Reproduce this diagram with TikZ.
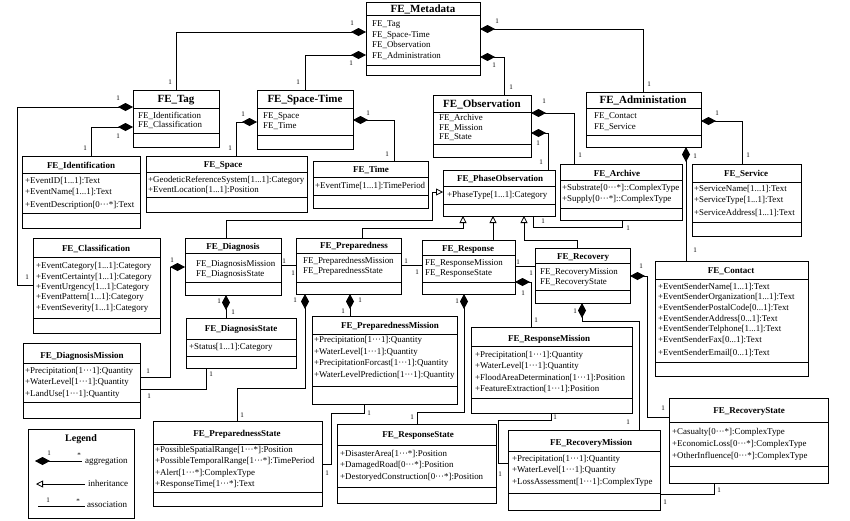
\documentclass[tikz,border=0pt]{standalone}
\usepackage{fontspec}
\setmainfont{Liberation Serif}
\usetikzlibrary{arrows.meta}
\newcommand\ubox[7]{%
  \pgfmathsetmacro\bw{#4-#2}\pgfmathsetmacro\bh{#5-#3}%
  \pgfmathsetmacro\bx{(#2+#4)/2}\pgfmathsetmacro\by{(#3+#5)/2}%
  \node[box, minimum width=\bw pt, minimum height=\bh pt] (#1) at (\bx,\by) {};
  \draw[line width=0.9pt] (#2,#6) -- (#4,#6) (#2,#7) -- (#4,#7);
}
\newcommand\al[4]{\node[attr] (#1) at (#2,#3) {#4};}
\newcommand\lb[3]{\node[lab] (#1) at (#2,#3) {1};}
\begin{document}
\begin{tikzpicture}[x=1pt,y=-1pt,
  box/.style={draw, fill=white, line width=0.9pt, inner sep=0, outer sep=0},
  conn/.style={line width=0.8pt},
  aggr/.style={conn, {Diamond[length=15pt,width=8pt]}-},
  inh/.style={conn, -{Triangle[open,length=7pt,width=7pt]}},
  attr/.style={anchor=west, inner sep=0, font=\fontsize{8.9}{10}\selectfont, text height=5.8pt, text depth=0pt},
  btitle/.style={inner sep=0, font=\fontsize{11}{13}\selectfont\bfseries, text height=7.3pt, text depth=0pt},
  stitle/.style={inner sep=0, font=\fontsize{9}{10}\selectfont\bfseries, text height=6pt, text depth=0pt},
  lab/.style={inner sep=0, font=\fontsize{7}{8}\selectfont},
  legtxt/.style={anchor=west, inner sep=0, font=\fontsize{9}{10}\selectfont, text height=5.4pt, text depth=0pt},
]
\useasboundingbox (0,0) rectangle (850,520);

% ---------- boxes ----------
\ubox{meta}{366}{2}{480}{75}{15}{65}
\node[btitle] (meta-t) at (423,9) {FE\_Metadata};
\al{meta-1}{372}{24}{FE\_Tag}
\al{meta-2}{372}{34.5}{FE\_Space-Time}
\al{meta-3}{372}{45}{FE\_Observation}
\al{meta-4}{372}{55.5}{FE\_Administration}

\ubox{tag}{133}{90}{219}{147}{108}{133}
\node[btitle] (tag-t) at (176,99) {FE\_Tag};
\al{tag-1}{138}{115.5}{FE\_Identification}
\al{tag-2}{138}{124.5}{FE\_Classification}

\ubox{st}{257}{90}{353}{149}{108}{135}
\node[btitle] (st-t) at (305,99) {FE\_Space-Time};
\al{st-1}{263}{116}{FE\_Space}
\al{st-2}{263}{126}{FE\_Time}

\ubox{obs}{433}{95}{531}{157}{112}{144}
\node[btitle] (obs-t) at (482,104) {FE\_Observation};
\al{obs-1}{439}{118}{FE\_Archive}
\al{obs-2}{439}{127.5}{FE\_Mission}
\al{obs-3}{439}{137}{FE\_State}

\ubox{adm}{586}{92}{701}{147}{108}{135}
\node[btitle] (adm-t) at (643,100) {FE\_Administation};
\al{adm-1}{594}{116}{FE\_Contact}
\al{adm-2}{594}{127}{FE\_Service}

\ubox{ident}{22}{156}{140}{228}{173}{213}
\node[stitle] (ident-t) at (81,165) {FE\_Identification};
\al{ident-1}{25}{181}{+EventID[1...1]:Text}
\al{ident-2}{25}{192}{+EventName[1...1]:Text}
\al{ident-3}{25}{205}{+EventDescription[0···*]:Text}

\ubox{space}{146}{156}{307}{212}{172}{197}
\node[stitle] (space-t) at (223,164) {FE\_Space};
\al{space-1}{148}{180}{+GeodeticReferenceSystem[1...1]:Category}
\al{space-2}{148}{190}{+EventLocation[1...1]:Position}

\ubox{time}{313}{161}{428}{208}{177}{195}
\node[stitle] (time-t) at (371,169) {FE\_Time};
\al{time-1}{315}{186}{+EventTime[1...1]:TimePeriod}

\ubox{phase}{443}{170}{555}{216}{186}{204}
\node[stitle] (phase-t) at (500,178) {FE\_PhaseObservation};
\al{phase-1}{447}{195}{+PhaseType[1...1]:Category}

\ubox{arch}{560}{164}{682}{220}{180}{208}
\node[stitle] (arch-t) at (617,173) {FE\_Archive};
\al{arch-1}{562}{188}{+Substrate[0···*]::ComplexType}
\al{arch-2}{562}{199}{+Supply[0···*]::ComplexType}

\ubox{serv}{692}{164}{801}{236}{182}{222}
\node[stitle] (serv-t) at (746,173) {FE\_Service};
\al{serv-1}{694}{189}{+ServiceName[1...1]:Text}
\al{serv-2}{694}{200}{+ServiceType[1...1]:Text}
\al{serv-3}{694}{213}{+ServiceAddress[1...1]:Text}

\ubox{class}{33}{238}{160}{333}{257}{318}
\node[stitle] (class-t) at (96,248) {FE\_Classification};
\al{class-1}{36}{266}{+EventCategory[1...1]:Category}
\al{class-2}{36}{277}{+EventCertainty[1...1]:Category}
\al{class-3}{36}{287}{+EventUrgency[1...1]:Category}
\al{class-4}{36}{297}{+EventPattern[1...1]:Category}
\al{class-5}{36}{308}{+EventSeverity[1...1]:Category}

\ubox{diag}{185}{238}{281}{295}{253}{282}
\node[stitle] (diag-t) at (233,246) {FE\_Diagnosis};
\al{diag-1}{196}{264}{FE\_DiagnosisMission}
\al{diag-2}{196}{274}{FE\_DiagnosisState}

\ubox{prep}{296}{238}{401}{294}{253}{282}
\node[stitle] (prep-t) at (354,245) {FE\_Preparedness};
\al{prep-1}{303}{261}{FE\_PreparednessMission}
\al{prep-2}{303}{271}{FE\_PreparednessState}

\ubox{resp}{422}{240}{515}{294}{255}{282}
\node[stitle] (resp-t) at (468,248) {FE\_Response};
\al{resp-1}{425}{263}{FE\_ResponseMission}
\al{resp-2}{425}{273}{FE\_ResponseState}

\ubox{reco}{535}{248}{630}{303}{263}{290}
\node[stitle] (reco-t) at (583,256) {FE\_Recovery};
\al{reco-1}{540}{272}{FE\_RecoveryMission}
\al{reco-2}{540}{282}{FE\_RecoveryState}

\ubox{cont}{655}{261}{808}{376}{279}{362}
\node[stitle] (cont-t) at (731,270) {FE\_Contact};
\al{cont-1}{658}{287}{+EventSenderName[1...1]:Text}
\al{cont-2}{658}{297}{+EventSenderOrganization[1...1]:Text}
\al{cont-3}{658}{308}{+EventSenderPostalCode[0...1]:Text}
\al{cont-4}{658}{319}{+EventSenderAddress[0...1]:Text}
\al{cont-5}{658}{329}{+EventSenderTelphone[1...1]:Text}
\al{cont-6}{658}{340}{+EventSenderFax[0...1]:Text}
\al{cont-7}{658}{353}{+EventSenderEmail[0...1]:Text}

\ubox{dstate}{186}{318}{296}{368}{339}{356}
\node[stitle] (dstate-t) at (241,328) {FE\_DiagnosisState};
\al{dstate-1}{189}{347}{+Status[1...1]:Category}

\ubox{dmis}{23}{343}{140}{418}{363}{402}
\node[stitle] (dmis-t) at (82,355) {FE\_DiagnosisMission};
\al{dmis-1}{25}{371}{+Precipitation[1···1]:Quantity}
\al{dmis-2}{25}{382}{+WaterLevel[1···1]:Quantity}
\al{dmis-3}{25}{394}{+LandUse[1···1]:Quantity}

\ubox{pmis}{312}{316}{457}{404}{334}{386}
\node[stitle] (pmis-t) at (390,325) {FE\_PreparednessMission};
\al{pmis-1}{314}{340}{+Precipitation[1···1]:Quantity}
\al{pmis-2}{314}{352}{+WaterLevel[1···1]:Quantity}
\al{pmis-3}{314}{363}{+PrecipitationForcast[1···1]:Quantity}
\al{pmis-4}{314}{375}{+WaterLevelPrediction[1···1]:Quantity}

\ubox{rmis}{471}{327}{632}{413}{346}{398}
\node[stitle] (rmis-t) at (549,338) {FE\_ResponseMission};
\al{rmis-1}{475}{355}{+Precipitation[1···1]:Quantity}
\al{rmis-2}{475}{366}{+WaterLevel[1···1]:Quantity}
\al{rmis-3}{475}{378}{+FloodAreaDetermination[1···1]:Position}
\al{rmis-4}{475}{389}{+FeatureExtraction[1···1]:Position}

\ubox{pstate}{153}{421}{322}{506}{444}{492}
\node[stitle] (pstate-t) at (237,433) {FE\_PreparednessState};
\al{pstate-1}{155}{450}{+PossibleSpatialRange[1···*]:Position}
\al{pstate-2}{155}{461}{+PossibleTemporalRange[1···*]:TimePeriod}
\al{pstate-3}{155}{473}{+Alert[1···*]:ComplexType}
\al{pstate-4}{155}{484}{+ResponseTime[1···*]:Text}

\ubox{rstate}{337}{424}{496}{503}{445}{487}
\node[stitle] (rstate-t) at (418,434) {FE\_ResponseState};
\al{rstate-1}{340}{454}{+DisasterArea[1···*]:Position}
\al{rstate-2}{340}{465}{+DamagedRoad[0···*]:Position}
\al{rstate-3}{340}{477}{+DestoryedConstruction[0···*]:Position}

\ubox{rcmis}{508}{430}{660}{510}{451}{493}
\node[stitle] (rcmis-t) at (591,442) {FE\_RecoveryMission};
\al{rcmis-1}{512}{459}{+Precipitation[1···1]:Quantity}
\al{rcmis-2}{512}{470}{+WaterLevel[1···1]:Quantity}
\al{rcmis-3}{512}{482}{+LossAssessment[1···1]:ComplexType}

\ubox{rcstate}{669}{398}{828}{483}{422}{466}
\node[stitle] (rcstate-t) at (749,410) {FE\_RecoveryState};
\al{rcstate-1}{672}{432}{+Casualty[0···*]:ComplexType}
\al{rcstate-2}{672}{444}{+EconomicLoss[0···*]:ComplexType}
\al{rcstate-3}{672}{456}{+OtherInfluence[0···*]:ComplexType}

% ---------- aggregations ----------
\draw[aggr] (meta.west |- 0,32) -| (tag.north);
\draw[aggr] (meta.west |- 0,55) -| (st.north);
\draw[aggr] (meta.east |- 0,29) -| (adm.north);
\draw[aggr] (meta.east |- 0,57) -| (obs.north -| 504,0);
\draw[aggr] (tag.west |- 0,107) -- (17,107) |- (class.west |- 0,285);
\draw[aggr] (tag.west |- 0,127) -| (ident.north -| 91,0);
\draw[aggr] (st.west |- 0,122) -| (space.north -| 236,0);
\draw[aggr] (st.east |- 0,120) -| (time.north -| 394,0);
\draw[aggr] (obs.east |- 0,113) -| (arch.north -| 574,0);
\draw[aggr] (obs.east |- 0,133) -| (phase.north -| 548,0);
\draw[aggr] (adm.east |- 0,121) -| (serv.north -| 742,0);
\draw[aggr] (adm.south -| 686,0) -- (cont.north -| 686,0);
\draw[aggr] (diag.west |- 0,267) -- (170,267) |- (dmis.east |- 0,377);
\draw[aggr] (diag.south -| 226,0) -- (dstate.north -| 226,0);
\draw[aggr] (prep.south -| 305,0) |- (237,388) -- (pstate.north -| 237,0);
\draw[aggr] (prep.south -| 350,0) -- (pmis.north -| 350,0);
\draw[aggr] (resp.east |- 0,282) -| (rmis.north -| 531,0);
\draw[aggr] (resp.south -| 464,0) |- (417,412) -- (rstate.north -| 417,0);
\draw[aggr] (reco.east |- 0,276) -- (647,276) |- (rcstate.west |- 0,417);
\draw[aggr] (reco.south -| 582,0) |- (639,321) -- (rcmis.north -| 639,0);

% ---------- associations ----------
\draw[conn] (diag.east |- 0,265) -- (prep.west |- 0,265);
\draw[conn] (prep.east |- 0,265) -- (resp.west |- 0,265);
\draw[conn] (resp.east |- 0,266) -- (reco.west |- 0,266);
\draw[conn] (dstate.south -| 206,0) |- (dmis.east |- 0,389);
\draw[conn] (pmis.south -| 364,0) -- (364,413) -- (331,413) |- (pstate.east |- 0,464);
\draw[conn] (rmis.south -| 551,0) -- (551,420) -- (498,420) |- (rcmis.west |- 0,463);
\draw[conn] (phase.south -| 533,0) |- (622,227) -- (arch.south -| 622,0);
\draw[conn] (rcstate.south -| 714,0) |- (rcmis.east |- 0,494);

% ---------- inheritance ----------
\draw[inh] (diag.north -| 226,0) |- (432,220) |- (phase.west |- 0,192);
\draw[inh] (prep.north -| 362,0) |- (463,228) -- (phase.south -| 463,0);
\draw[inh] (resp.north -| 493,0) -- (phase.south -| 493,0);
\draw[inh] (reco.north -| 577,0) |- (524,240) -- (phase.south -| 524,0);

% ---------- multiplicities ----------
\lb{m1}{352}{23}\lb{m2}{170}{82}\lb{m3}{351}{63}\lb{m4}{298}{82}
\lb{m5}{497}{21}\lb{m6}{649}{84}\lb{m7}{494}{65}\lb{m8}{511}{87}
\lb{t1}{118}{98}\lb{t2}{27}{277}\lb{t3}{118}{136}\lb{t4}{85}{148}
\lb{s1}{243}{114}\lb{s2}{230}{148}\lb{s3}{368}{113}\lb{s4}{387}{154}
\lb{o1}{544}{101}\lb{o2}{580}{155}\lb{o3}{538}{143}\lb{o4}{541}{162}
\lb{a1}{717}{113}\lb{a2}{748}{155}\lb{a3}{695}{156}\lb{a4}{695}{250}
\lb{d1}{172}{260}\lb{d2}{148}{371}\lb{d3}{219}{301}\lb{d4}{233}{312}
\lb{p1}{295}{300}\lb{p2}{242}{415}\lb{p3}{360}{300}\lb{p4}{343}{311}
\lb{r1}{523}{293}\lb{r2}{536}{320}\lb{r3}{457}{301}\lb{r4}{412}{417}
\lb{c1}{641}{266}\lb{c2}{663}{408}\lb{c3}{575}{311}\lb{c4}{628}{422}
\lb{x1}{284}{261}\lb{x2}{293}{273}\lb{x3}{406}{261}\lb{x4}{417}{272}
\lb{x5}{518}{262}\lb{x6}{531}{273}\lb{x7}{211}{374}\lb{x8}{149}{396}
\lb{x9}{369}{413}\lb{x10}{327}{473}\lb{x11}{555}{417}\lb{x12}{500}{474}
\lb{x13}{543}{221}\lb{x14}{628}{228}\lb{x15}{719}{490}\lb{x16}{665}{502}

% ---------- legend ----------
\node[box, minimum width=106pt, minimum height=89pt] (legend) at (81,473.5) {};
\node[inner sep=0, font=\fontsize{10}{12}\selectfont\bfseries] (leg-t) at (81,439) {Legend};
\coordinate (lga1) at (35,461); \coordinate (lga2) at (82,461);
\draw[aggr] (lga1) -- (lga2);
\node[lab] (lga-1) at (49,453) {1};
\node[lab] (lga-s) at (79,455) {*};
\node[legtxt] (lga-t) at (85,461) {aggregation};
\coordinate (lgi1) at (36,484); \coordinate (lgi2) at (85,484);
\draw[inh] (lgi2) -- (lgi1);
\node[legtxt] (lgi-t) at (88,484) {inheritance};
\coordinate (lgs1) at (38,506); \coordinate (lgs2) at (85,506);
\draw[conn] (lgs1) -- (lgs2);
\node[lab] (lgs-1) at (48,500) {1};
\node[lab] (lgs-s) at (78,501) {*};
\node[legtxt] (lgs-t) at (87,505) {association};
\end{tikzpicture}
\end{document}
